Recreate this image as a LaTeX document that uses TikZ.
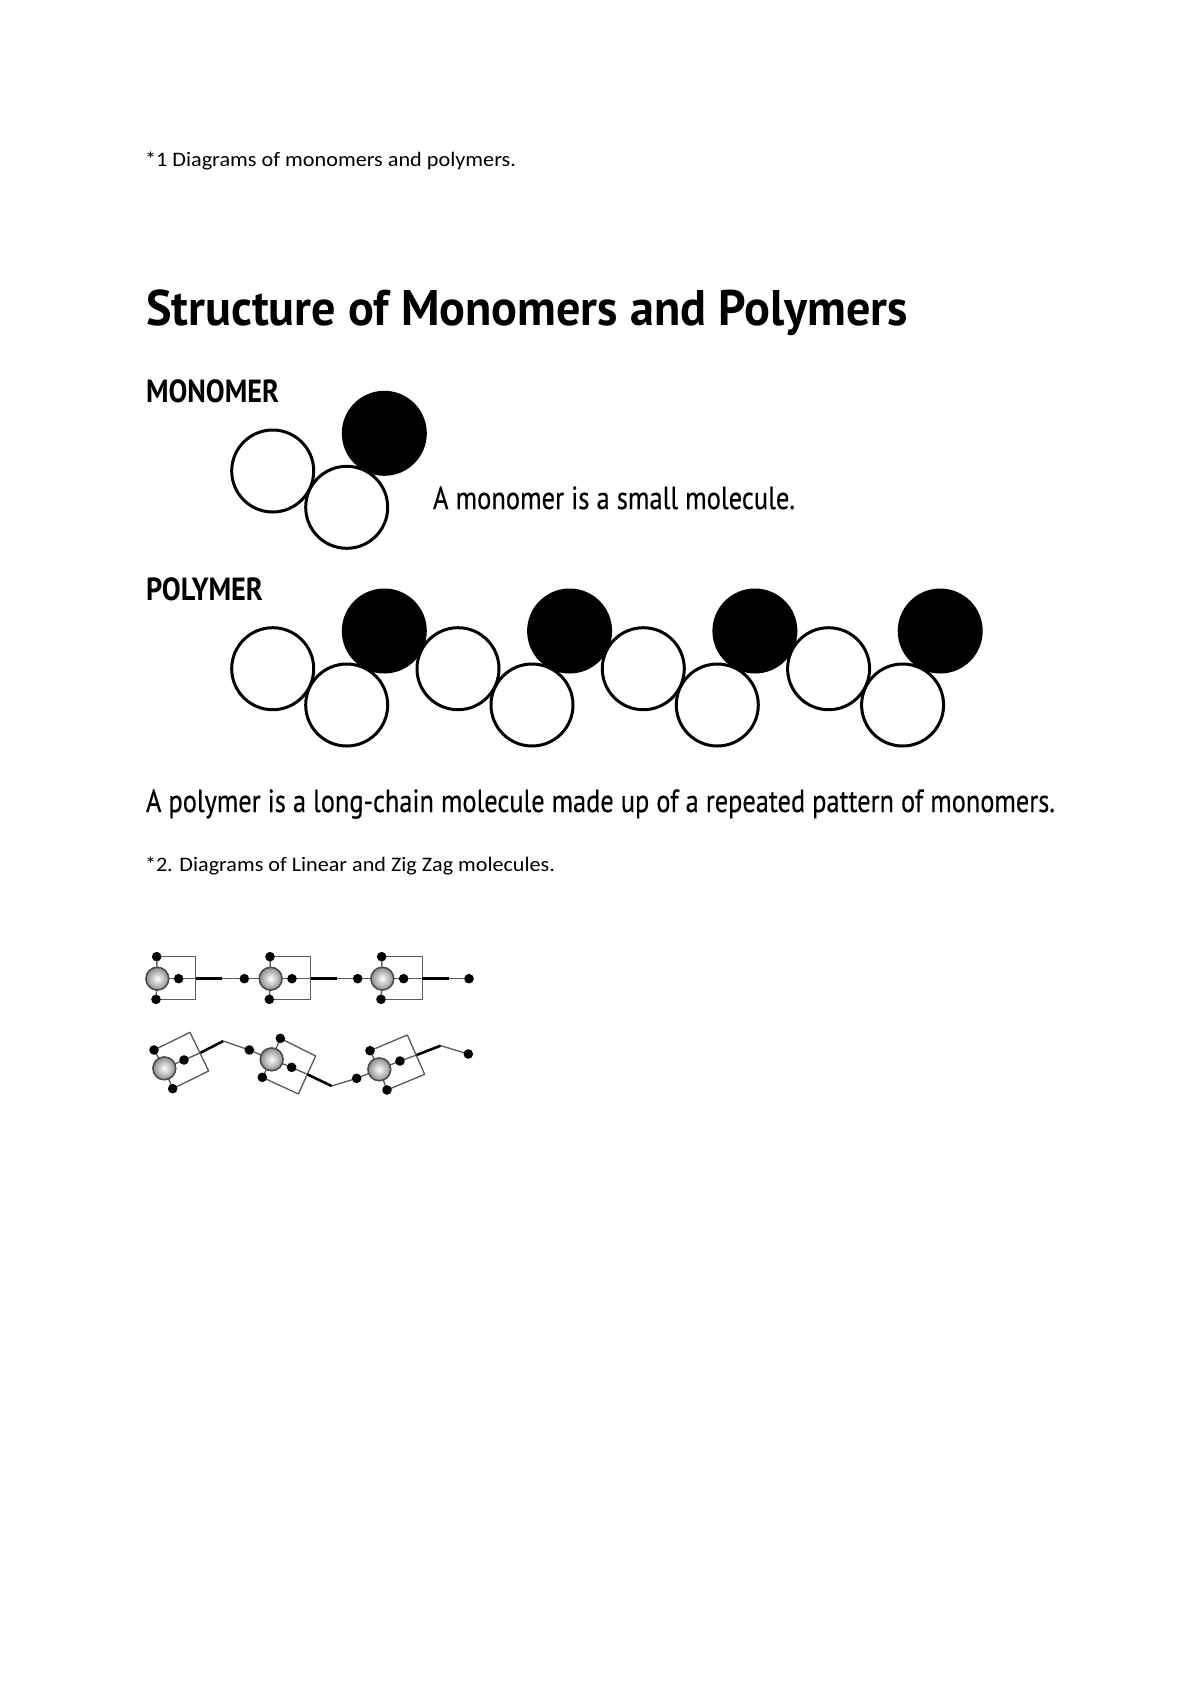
\documentclass[tikz,border=0pt]{standalone}
\usepackage{fontspec}
\setmainfont{Carlito}
\newfontfamily\headfont{PT Sans}
\newfontfamily\captionfont[FakeBold=0.35]{PT Sans}
\usetikzlibrary{backgrounds,calc}
\newcommand{\fitw}[2]{\resizebox{#1}{\height}{#2}}
\tikzset{
  txt/.style={anchor=base west,inner sep=0pt,outer sep=0pt},
  bodytext/.style={txt,font=\fontsize{10.3}{12}\selectfont,text=black},
  title/.style={txt,font=\headfont\bfseries\fontsize{25}{30}\selectfont},
  sub/.style={txt,font=\headfont\bfseries\fontsize{16}{20}\selectfont},
  caption/.style={txt,font=\captionfont\fontsize{16}{20}\selectfont},
  disc/.style={circle,draw=black,line width=1.5pt,fill=white,minimum size=41pt,inner sep=0pt},
  blackdisc/.style={disc,fill=black},
  atom/.style={circle,fill=black,minimum size=4.8pt,inner sep=0pt,outer sep=0pt},
  ball/.style={circle,draw=black!70,line width=.8pt,minimum size=11.4pt,inner sep=0pt,outer sep=0pt,shading=radial,inner color=white,outer color=black!45},
  frame/.style={black!65,line width=.65pt,line join=round},
  thin bond/.style={black!65,line width=.65pt},
  thick bond/.style={black,line width=1.3pt},
}
\begin{document}
\begin{tikzpicture}[x=.5pt,y=-.5pt]
\useasboundingbox (0,0) rectangle (1200,1698);
\begin{scope}[on background layer]
\fill[white] (0,0) rectangle (1200,1698);
\end{scope}
\node[bodytext] (cap1) at (145,166) {\fitw{185.5pt}{*1 Diagrams of monomers and polymers.}};
\node[title] (head) at (146,325) {\fitw{381pt}{Structure of Monomers and Polymers}};
\node[sub] (mono) at (146,402) {\fitw{66.5pt}{MONOMER}};
\node[caption] (monotext) at (433,509) {\fitw{181pt}{A monomer is a small molecule.}};
\node[sub] (poly) at (146,600) {\fitw{58.5pt}{POLYMER}};
\node[caption] (polytext) at (146,812) {\fitw{454.5pt}{A polymer is a long-chain molecule made up of a repeated pattern of monomers.}};
\node[bodytext] (cap2) at (145,871) {\fitw{205pt}{*2. Diagrams of Linear and Zig Zag molecules.}};
% monomer
\node[blackdisc] (mb) at (384.3,433.3) {};
\node[disc] (mw1) at (272.7,471) {};
\node[disc] (mw2) at (346.7,507.3) {};
% polymer
\foreach \i/\dx in {1/0,2/185.3,3/370.6,4/555.9}{
  \node[blackdisc] (pb\i) at (384.3+\dx,631) {};
  \node[disc] (pa\i) at (272.7+\dx,668.7) {};
  \node[disc] (pc\i) at (346.7+\dx,705) {};
}
% linear and zig-zag molecules (coordinates in 1/3 px)
\begin{scope}[shift={(130,930)},x=.5pt/3,y=-.5pt/3]
  % linear chain
  \foreach \i/\bx/\wx in {1/82/197,2/422/542,3/757/877}{
    \node[ball] (lb\i) at (\bx,146) {};
    \node[atom] (lt\i) at (\bx-2,80) {};
    \node[atom] (ld\i) at (\bx-4,208) {};
    \node[atom] (lr\i) at (\bx+64,146) {};
    \coordinate (ln\i) at (\wx,80);
    \coordinate (lj\i) at (\wx,146);
    \coordinate (ls\i) at (\wx,208);
    \coordinate (lk\i) at (\wx+80,146);
  }
  \node[atom] (la1) at (343,146) {};
  \node[atom] (la2) at (683,146) {};
  \node[atom] (la3) at (1017,146) {};
  % zig-zag chain
  \node[ball] (zb1) at (103,415) {};
  \node[atom] (zt1) at (72,360) {};
  \node[atom] (zd1) at (128,476) {};
  \node[atom] (zr1) at (162,390) {};
  \coordinate (zn1) at (180,307);
  \coordinate (zs1) at (236,423);
  \coordinate (zj1) at (212,368);
  \coordinate (zk1) at (280,333);
  \node[atom] (za1) at (358,360) {};
  \node[ball] (zb2) at (425,388) {};
  \node[atom] (zt2) at (451,325) {};
  \node[atom] (zd2) at (397,442) {};
  \node[atom] (zr2) at (485,412) {};
  \coordinate (zn2) at (557,378);
  \coordinate (zs2) at (505,492);
  \coordinate (zj2) at (532,433);
  \coordinate (zk2) at (605,468);
  \node[atom] (za2) at (680,445) {};
  \node[ball] (zb3) at (748,418) {};
  \node[atom] (zt3) at (720,362) {};
  \node[atom] (zd3) at (771,480) {};
  \node[atom] (zr3) at (810,393) {};
  \coordinate (zn3) at (832,315);
  \coordinate (zs3) at (884,433);
  \coordinate (zj3) at (860,375);
  \coordinate (zk3) at (932,347);
  \node[atom] (za3) at (1015,372) {};
  \begin{scope}[on background layer]
    \foreach \u in {l,z}{
      \foreach \i in {1,2,3}{
        \draw[frame] (\u t\i.center) -- (\u n\i) -- (\u s\i) -- (\u d\i.center);
        \draw[thin bond] (\u t\i.center) -- (\u b\i.center) -- (\u d\i.center);
        \draw[thin bond] (\u b\i.center) -- (\u r\i.center) -- (\u j\i);
        \draw[thick bond] (\u j\i) -- (\u k\i);
        \draw[thin bond] (\u k\i) -- (\u a\i.center);
      }
      \draw[thin bond] (\u a1.center) -- (\u b2.center);
      \draw[thin bond] (\u a2.center) -- (\u b3.center);
    }
  \end{scope}
\end{scope}
\end{tikzpicture}
\end{document}
